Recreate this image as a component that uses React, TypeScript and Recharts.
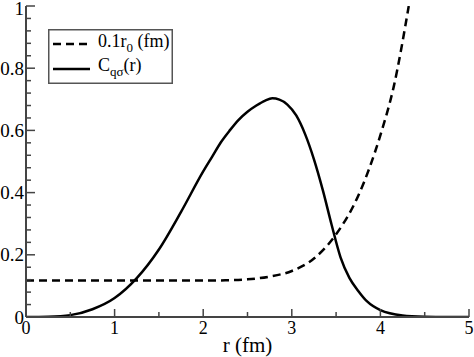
import React from 'react';
import { LineChart, Line, XAxis, YAxis } from 'recharts';

const xTicks = [0, 0.5, 1, 1.5, 2, 2.5, 3, 3.5, 4, 4.5, 5];
const yTicks = [0, 0.04, 0.08, 0.12, 0.16, 0.2, 0.24, 0.28, 0.32, 0.36, 0.4, 0.44, 0.48, 0.52, 0.56, 0.6, 0.64, 0.68, 0.72, 0.76, 0.8, 0.84, 0.88, 0.92, 0.96, 1];
const yMajor = [0, 0.2, 0.4, 0.6, 0.8, 1];

const dashedR = [0, 0.5, 1, 1.5, 2, 2.25, 2.5, 2.75, 3.0, 3.25, 3.5, 3.75, 4.0, 4.15, 4.32];
const dashedV = [0.117, 0.117, 0.117, 0.117, 0.117, 0.118, 0.121, 0.13, 0.148, 0.188, 0.266, 0.39, 0.585, 0.74, 1.0];

const solidR = [0, 0.25, 0.5, 0.75, 1.0, 1.25, 1.5, 1.75, 2.0, 2.1, 2.2, 2.3, 2.4, 2.5, 2.6, 2.7, 2.78, 2.86, 2.95, 3.05, 3.15, 3.25, 3.35, 3.45, 3.55, 3.65, 3.75, 3.85, 4.0, 4.25, 4.5, 4.75, 5.0];
const solidV = [0, 0.001, 0.006, 0.025, 0.061, 0.125, 0.217, 0.338, 0.468, 0.515, 0.562, 0.6, 0.634, 0.66, 0.68, 0.696, 0.703, 0.699, 0.683, 0.648, 0.588, 0.507, 0.408, 0.296, 0.192, 0.126, 0.084, 0.05, 0.022, 0.005, 0.001, 0, 0];

const dashedData = dashedR.map((r, i) => ({ r, v: dashedV[i] }));
const solidData = solidR.map((r, i) => ({ r, v: solidV[i] }));

const FONT = 'Liberation Serif';
const AXIS = '#444';

const isMajorX = (v: number) => Math.abs(v - Math.round(v)) < 1e-6;
const isMajorY = (v: number) => yMajor.some((m) => Math.abs(m - v) < 1e-6);

const BottomTick = (props: any) => {
  const { x, y, payload } = props;
  const major = isMajorX(payload.value);
  return (
    <g>
      <line x1={x} x2={x} y1={y} y2={y - (major ? 8 : 5)} stroke={AXIS} strokeWidth={1.5} />
      {major && (
        <text x={x} y={y + 17} textAnchor="middle" fontFamily={FONT} fontSize={18} fill="#000">
          {String(payload.value)}
        </text>
      )}
    </g>
  );
};

const TopTick = (props: any) => {
  const { x, y, payload } = props;
  const major = isMajorX(payload.value);
  return <line x1={x} x2={x} y1={y} y2={y + (major ? 8 : 5)} stroke={AXIS} strokeWidth={1.5} />;
};

const LeftTick = (props: any) => {
  const { x, y, payload } = props;
  const major = isMajorY(payload.value);
  const isTop = Math.abs(payload.value - 1) < 1e-6;
  return (
    <g>
      <line x1={x} x2={x + (major ? 9 : 5)} y1={y} y2={y} stroke={AXIS} strokeWidth={1.5} />
      {major && (
        <text x={x - 2} y={y + (isTop ? 2 : 0)} dy="0.35em" textAnchor="end" fontFamily={FONT} fontSize={19} fill="#000">
          {String(payload.value)}
        </text>
      )}
    </g>
  );
};

const RightTick = (props: any) => {
  const { x, y, payload } = props;
  const major = isMajorY(payload.value);
  return <line x1={x} x2={x - (major ? 9 : 5)} y1={y} y2={y} stroke={AXIS} strokeWidth={1.5} />;
};

const LegendBox = () => (
  <svg width={126} height={56} style={{ position: 'absolute', left: 48, top: 29 }}>
    <rect x={0.75} y={0.75} width={123.5} height={53.5} fill="#fff" stroke="#555" strokeWidth={1.5} />
    <line x1={5} x2={42} y1={15} y2={15} stroke="#000" strokeWidth={2.5} strokeDasharray="8 5" />
    <text x={50} y={17.7} fontFamily={FONT} fontSize={18} fill="#000" xmlSpace="preserve">
      0.1r
      <tspan fontSize={13} dy={5}>0</tspan>
      <tspan dy={-5}> (fm)</tspan>
    </text>
    <line x1={5} x2={42} y1={40} y2={40} stroke="#000" strokeWidth={2.5} />
    <text x={50} y={42} fontFamily={FONT} fontSize={18} fill="#000">
      C
      <tspan fontSize={13} dy={5}>qσ</tspan>
      <tspan dy={-5}>(r)</tspan>
    </text>
  </svg>
);

export default function App() {
  return (
    <div style={{ position: 'absolute', left: 0, top: 0, width: 474, height: 357, background: '#fff', fontFamily: FONT }}>
      <LineChart width={474} height={357} margin={{ top: 6, right: 5, left: 0, bottom: 0 }}>
        <XAxis
          xAxisId="bottom"
          dataKey="r"
          type="number"
          domain={[0, 5]}
          ticks={xTicks}
          interval={0}
          height={40}
          tickSize={0}
          tickMargin={0}
          tickLine={false}
          axisLine={{ stroke: AXIS, strokeWidth: 2 }}
          tick={<BottomTick />}
          allowDataOverflow
          label={{ value: 'r (fm)', position: 'insideBottom', offset: 5, fontFamily: FONT, fontSize: 21, fill: '#000' }}
        />
        <XAxis
          xAxisId="top"
          orientation="top"
          type="number"
          domain={[0, 5]}
          ticks={xTicks}
          interval={0}
          height={0}
          tickSize={0}
          tickMargin={0}
          tickLine={false}
          axisLine={{ stroke: AXIS, strokeWidth: 2 }}
          tick={<TopTick />}
          allowDataOverflow
        />
        <YAxis
          yAxisId="left"
          type="number"
          domain={[0, 1]}
          ticks={yTicks}
          interval={0}
          width={26}
          tickSize={0}
          tickMargin={0}
          tickLine={false}
          axisLine={{ stroke: AXIS, strokeWidth: 2 }}
          tick={<LeftTick />}
          allowDataOverflow
        />
        <YAxis
          yAxisId="right"
          orientation="right"
          type="number"
          domain={[0, 1]}
          ticks={yTicks}
          interval={0}
          width={0}
          tickSize={0}
          tickMargin={0}
          tickLine={false}
          axisLine={{ stroke: AXIS, strokeWidth: 2 }}
          tick={<RightTick />}
          allowDataOverflow
        />
        <Line
          xAxisId="bottom"
          yAxisId="left"
          data={dashedData}
          dataKey="v"
          type="monotone"
          stroke="#000"
          strokeWidth={2.5}
          strokeDasharray="8 5"
          dot={false}
          activeDot={false}
          isAnimationActive={false}
        />
        <Line
          xAxisId="bottom"
          yAxisId="left"
          data={solidData}
          dataKey="v"
          type="monotone"
          stroke="#000"
          strokeWidth={2.5}
          dot={false}
          activeDot={false}
          isAnimationActive={false}
        />
      </LineChart>
      <LegendBox />
    </div>
  );
}
